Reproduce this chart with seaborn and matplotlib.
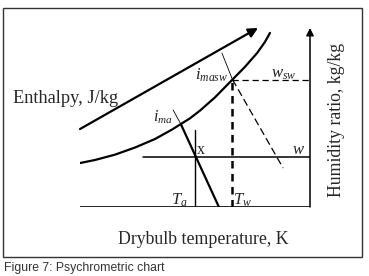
import matplotlib
matplotlib.use("Agg")
from matplotlib import pyplot as plt
from matplotlib.patches import Rectangle
import seaborn as sns

# schematic units: drybulb temperature 0-100 along x, humidity ratio 0-100 along y
sat_T = [0, 6.5, 15.2, 23.9, 32.6, 40.0, 47.8, 52.2, 58.7, 66.3, 71.7, 77.0, 80.4, 82.6]
sat_w = [24.7, 26.4, 29.4, 33.4, 38.2, 43.5, 49.8, 54.2, 61.6, 71.6, 78.7, 86.5, 92.7, 97.8]

enth_T = [0, 77.4]
enth_w = [43.8, 100.6]

# air state point x and wet bulb state
T_a = 49.8
w_a = 28.1
T_w = 66.3
w_sw = 71.6

ima_T = [40.5, 43.9, 60.4]
ima_w = [54.5, 46.4, 0.0]
imasw_T = [61.7, T_w, 88.3]
imasw_w = [86.5, w_sw, 21.9]

w_line_T = [27.4, 100]
Ta_top = 43.3
T_max = 100
w_max = 100.6

sns.set_style("white")
plt.rcParams['font.family'] = ['Liberation Serif', 'DejaVu Serif']
plt.rcParams['mathtext.fontset'] = 'custom'
plt.rcParams['mathtext.rm'] = 'Liberation Serif'
plt.rcParams['mathtext.it'] = 'Liberation Serif:italic'

fig = plt.figure(figsize=(3.69, 2.76), dpi=100)
ax = fig.add_axes([80 / 369, 69 / 276, 230 / 369, 178 / 276])
ax.set_xlim(0, 100)
ax.set_ylim(0, 100)
ax.axis('off')

k = 'black'
# saturation curve
sns.lineplot(x=sat_T, y=sat_w, sort=False, estimator=None, color=k, lw=1.6, ax=ax)
# enthalpy arrow
ax.annotate('', xy=(enth_T[1], enth_w[1]), xytext=(enth_T[0], enth_w[0]),
            arrowprops=dict(arrowstyle='-|>', lw=1.6, color=k, mutation_scale=14,
                            shrinkA=0, shrinkB=0), annotation_clip=False)
# axes: bottom and right with arrow
sns.lineplot(x=[0, T_max], y=[0, 0], estimator=None, color=k, lw=1.2, ax=ax)
ax.annotate('', xy=(T_max, w_max), xytext=(T_max, 0),
            arrowprops=dict(arrowstyle='-|>', lw=1.1, color=k, mutation_scale=11,
                            shrinkA=0, shrinkB=0), annotation_clip=False)
# humidity w line and Ta line
sns.lineplot(x=w_line_T, y=[w_a, w_a], estimator=None, color=k, lw=1.1, ax=ax)
ax.plot([T_a, T_a], [0, Ta_top], color=k, lw=1.0)
# enthalpy line through x
ax.plot(ima_T[:2], ima_w[:2], color=k, lw=0.6)
ax.plot(ima_T[1:], ima_w[1:], color=k, lw=1.6)
# wet bulb lines
ax.plot(imasw_T[:2], imasw_w[:2], color=k, lw=0.6)
ax.plot(imasw_T[1:], imasw_w[1:], color=k, lw=0.9, ls=(0, (6, 3)))
ax.plot([T_w, T_max], [w_sw, w_sw], color=k, lw=0.9, ls=(0, (5, 3)))
ax.plot([T_w, T_w], [0, w_sw], color=k, lw=1.8, ls=(0, (3, 2.2)))

# labels
ax.text(-29.1, 61.2, 'Enthalpy, J/kg', fontsize=13.2, ha='left', va='center')
ax.text(36.1, 50.6, r'$i_{ma}$', fontsize=11.5, ha='center', va='center', color='#222')
ax.text(57.0, 74.2, r'$i_{masw}$', fontsize=12, ha='center', va='center', color='#222')
ax.text(88.7, 74.7, r'$w_{sw}$', fontsize=12, ha='center', va='center', color='#222')
ax.text(52.4, 32.0, 'x', fontsize=11.5, ha='center', va='center')
ax.text(94.8, 32.0, r'$w$', fontsize=12, ha='center', va='center')
ax.text(43.3, 4.0, r'$T_a$', fontsize=12, ha='center', va='center')
ax.text(T_w + 0.4, 3.7, r'$T_w$', fontsize=12, ha='left', va='center')
ax.text(53.5, -18.0, 'Drybulb temperature, K', fontsize=12.8, ha='center', va='center')
ax.text(111.7, 48.9, 'Humidity ratio, kg/kg', fontsize=12.8, ha='center', va='center',
        rotation=90)

fig.patches.append(Rectangle((3.3 / 369, 19.3 / 276), 358.4 / 369, 248.4 / 276,
                             transform=fig.transFigure, fill=False, lw=1.0, ec='#333'))
fig.text(3.5 / 369, 1 - 268 / 276, 'Figure 7: Psychrometric chart', fontsize=8.8,
         family=['Liberation Sans', 'DejaVu Sans'], ha='left', va='center', color='#333')

fig.savefig('out.png', dpi=100)
